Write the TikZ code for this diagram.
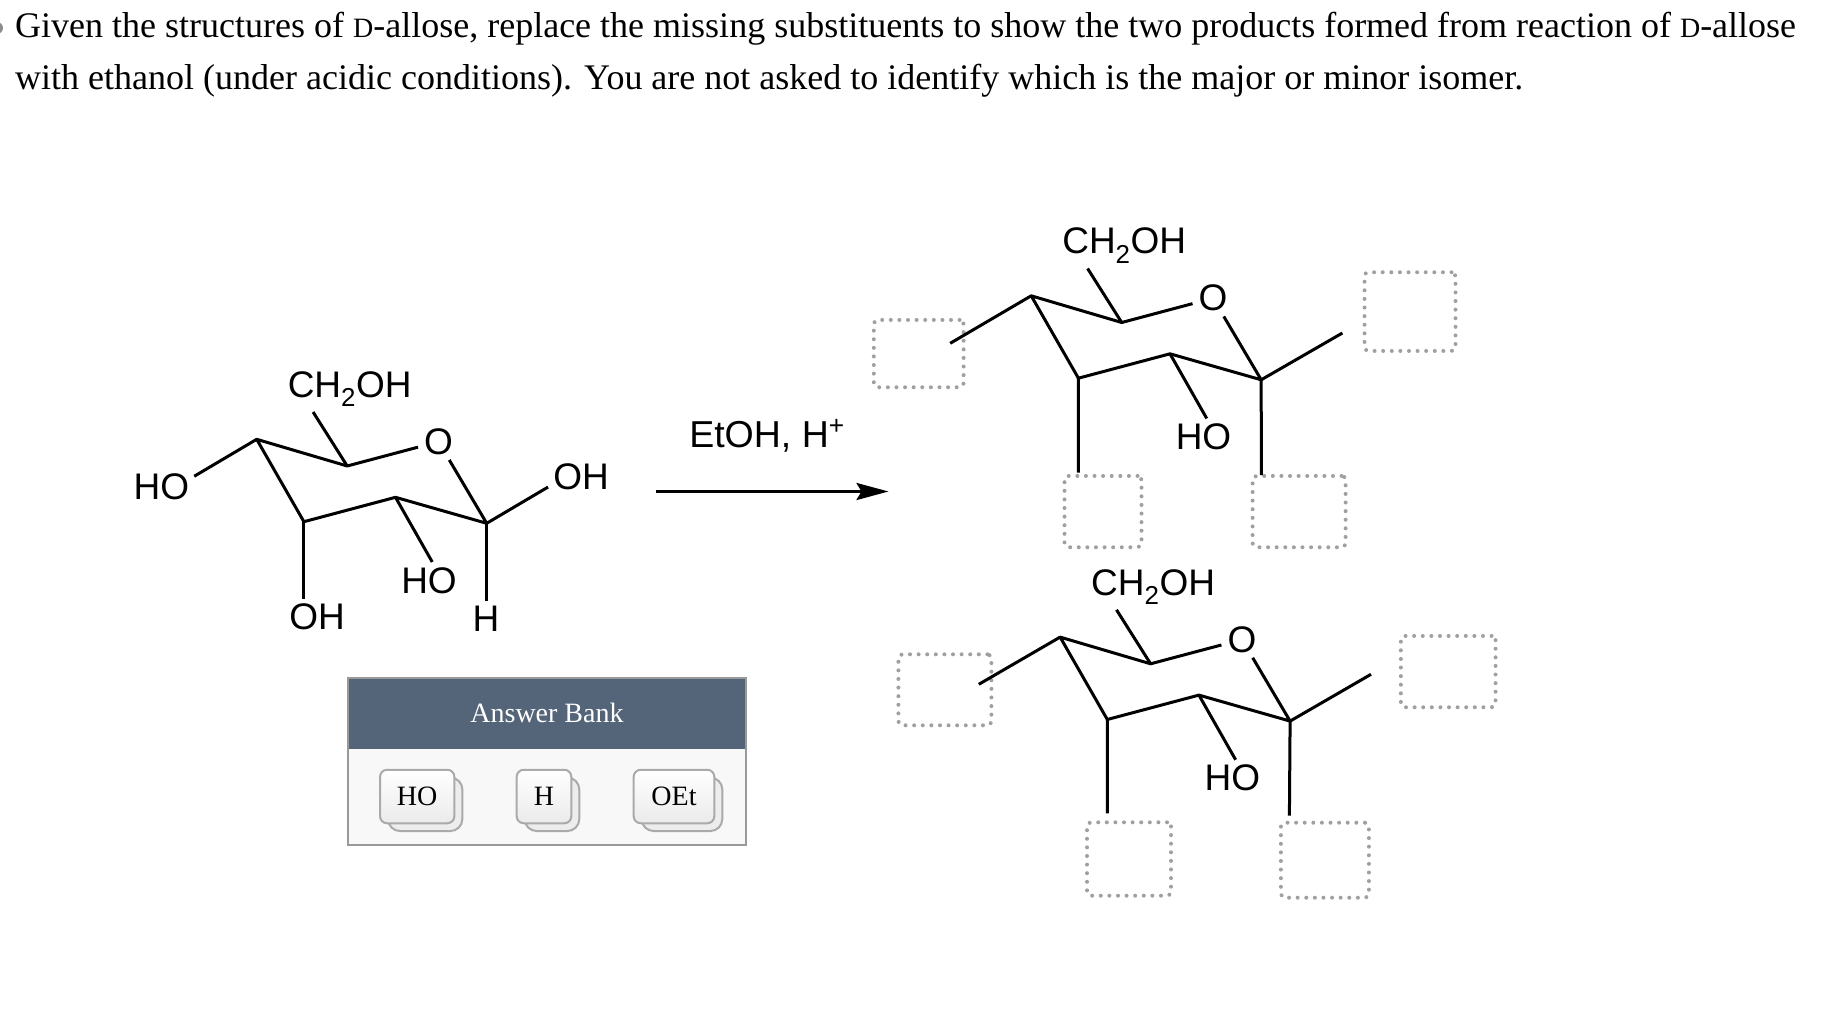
\documentclass[tikz,border=0pt]{standalone}
\usepackage{fontspec}
\setmainfont{Liberation Serif}
\newfontfamily\chemfont{Liberation Sans}
\usetikzlibrary{arrows.meta}
\definecolor{bankhead}{RGB}{84,100,121}
\definecolor{bankedge}{RGB}{153,153,153}
\definecolor{bankfill}{RGB}{248,248,248}
\definecolor{slotdot}{RGB}{160,160,160}
\definecolor{btnedge}{RGB}{170,170,170}
\tikzset{
	bond/.style={line width=3pt},
	lbl/.style={font=\chemfont\fontsize{37}{40}\selectfont,inner sep=5pt,anchor=base},
	ringO/.style={circle,inner sep=0pt,minimum size=42pt,font=\chemfont\fontsize{37}{40}\selectfont},
	slot/.style={draw=slotdot,line width=4pt,line cap=round,dash pattern=on 0pt off 8.6pt,rounded corners=4pt,inner sep=0pt,outer sep=0pt},
	btn/.style={draw=btnedge,line width=2pt,rounded corners=7pt,top color=white,bottom color=black!8,inner sep=0pt,outer sep=0pt,minimum height=53.5pt,font=\fontsize{28}{32}\selectfont},
	btnback/.style={draw=btnedge,line width=2pt,rounded corners=12pt,fill=black!7,inner sep=0pt,outer sep=0pt,minimum height=53.5pt},
	titleline/.style={anchor=base west,inner sep=0pt,font=\fontsize{36}{40}\selectfont}
}
% ring with CH2OH and the HO that is already printed, #1 is the prefix of the names
\newcommand{\sugarring}[1]{
	\coordinate (#14) at (256.7,439.3);
	\coordinate (#15) at (347.2,466);
	\coordinate (#11) at (486.7,523.3);
	\coordinate (#12) at (395.5,497.3);
	\coordinate (#13) at (303.9,521.7);
	\node[ringO] (#1O) at (438.5,441.7) {O};
	\node[lbl] (#1CH) at (349.7,397.3) {CH\textsubscript{2}OH};
	\node[lbl] (#1HO) at (429,593) {HO};
	\draw[bond,line join=round] (#1O) -- (#15) -- (#14) -- (#13) -- (#12) -- (#11) -- (#1O);
	\draw[bond] (#15) -- (#1CH.212);
	\draw[bond] (#12) -- (#1HO.80);
}
\begin{document}
\begin{tikzpicture}[x=1pt,y=-1pt,>=latex]
	\useasboundingbox (0,0) rectangle (1828,1022);
	% question
	\node[circle,fill=black!45,minimum size=12pt,inner sep=0pt] (bullet) at (-3,28) {};
	\node[titleline] (line1) at (15,38) {Given the structures of {\fontsize{28}{32}\selectfont D}-allose, replace the missing substituents to show the two products formed from reaction of {\fontsize{28}{32}\selectfont D}-allose};
	\node[titleline] (line2) at (15,90) {with ethanol (under acidic conditions). You are not asked to identify which is the major or minor isomer.};
	% left sugar
	\sugarring{l}
	\node[lbl] (lHOa) at (161.3,499.7) {HO};
	\node[lbl] (lOHa) at (581,489.7) {OH};
	\node[lbl] (lOHc) at (317,629.7) {OH};
	\node[lbl] (lH) at (486,631.3) {H};
	\draw[bond] (l4) -- (lHOa.18);
	\draw[bond] (l1) -- (lOHa.197);
	\draw[bond] (l3) -- (lOHc.north -| l3);
	\draw[bond] (l1) -- (lH.north -| l1);
	% arrow
	\node[font=\chemfont\fontsize{37.5}{40}\selectfont,inner sep=0pt] (cond) at (767,436) {EtOH, H\raisebox{4pt}{\textsuperscript{+}}};
	\coordinate (arrowa) at (656,491.5);
	\coordinate (arrowb) at (888.5,491.5);
	\draw[line width=3pt,-{Stealth[length=32pt,width=17pt,inset=5pt]}] (arrowa) -- (arrowb);
	% top product
	\node[slot,minimum width=89.8pt,minimum height=67.3pt] (tsa) at (918.7,353.6) {};
	\node[slot,minimum width=77pt,minimum height=71.3pt] (tsb) at (1103,511.6) {};
	\node[slot,minimum width=93pt,minimum height=71.3pt] (tsc) at (1299.1,511.6) {};
	\node[slot,minimum width=91pt,minimum height=78.7pt] (tsd) at (1410,311.6) {};
	\begin{scope}[shift={(774.5,-143.5)}]
		\sugarring{t}
	\end{scope}
	\coordinate (tea) at (950.2,343.3);
	\coordinate (teb) at (1078.3,472.7);
	\coordinate (tec) at (1261.3,475);
	\coordinate (ted) at (1342.4,333);
	\draw[bond] (t4) -- (tea);
	\draw[bond] (t3) -- (teb);
	\draw[bond] (t1) -- (tec);
	\draw[bond] (t1) -- (ted);
	% bottom product
	\node[slot,minimum width=93pt,minimum height=71pt] (bsa) at (944.9,689.8) {};
	\node[slot,minimum width=84pt,minimum height=73.4pt] (bsb) at (1129,859) {};
	\node[slot,minimum width=88pt,minimum height=75pt] (bsc) at (1324.9,860.2) {};
	\node[slot,minimum width=94.7pt,minimum height=71.3pt] (bsd) at (1448.2,671.6) {};
	\begin{scope}[shift={(803.4,197.8)}]
		\sugarring{b}
	\end{scope}
	\coordinate (bea) at (978.8,684.3);
	\coordinate (beb) at (1107.3,813.3);
	\coordinate (bec) at (1289.4,815.7);
	\coordinate (bed) at (1371,674.3);
	\draw[bond] (b4) -- (bea);
	\draw[bond] (b3) -- (beb);
	\draw[bond] (b1) -- (bec);
	\draw[bond] (b1) -- (bed);
	% answer bank
	\node[draw=bankedge,line width=2pt,fill=bankfill,minimum width=398.6pt,minimum height=167.3pt,inner sep=0pt,outer sep=0pt] (bank) at (547,761.3) {};
	\node[fill=bankhead,minimum width=396.6pt,minimum height=70.3pt,inner sep=0pt,outer sep=0pt] (bankhd) at (547,713.8) {};
	\node[text=white,font=\fontsize{28}{32}\selectfont,inner sep=0pt] (banktxt) at (547,712.6) {Answer Bank};
	\node[btnback,minimum width=74.3pt] (hoback) at (425.2,804.3) {};
	\node[btn,minimum width=74.3pt] (hobtn) at (417.2,796.5) {HO};
	\node[btnback,minimum width=54.6pt] (hback) at (552,804.3) {};
	\node[btn,minimum width=54.6pt] (hbtn) at (544,796.5) {H};
	\node[btnback,minimum width=80.6pt] (oetback) at (682,804.3) {};
	\node[btn,minimum width=80.6pt] (oetbtn) at (674,796.5) {OEt};
\end{tikzpicture}
\end{document}
